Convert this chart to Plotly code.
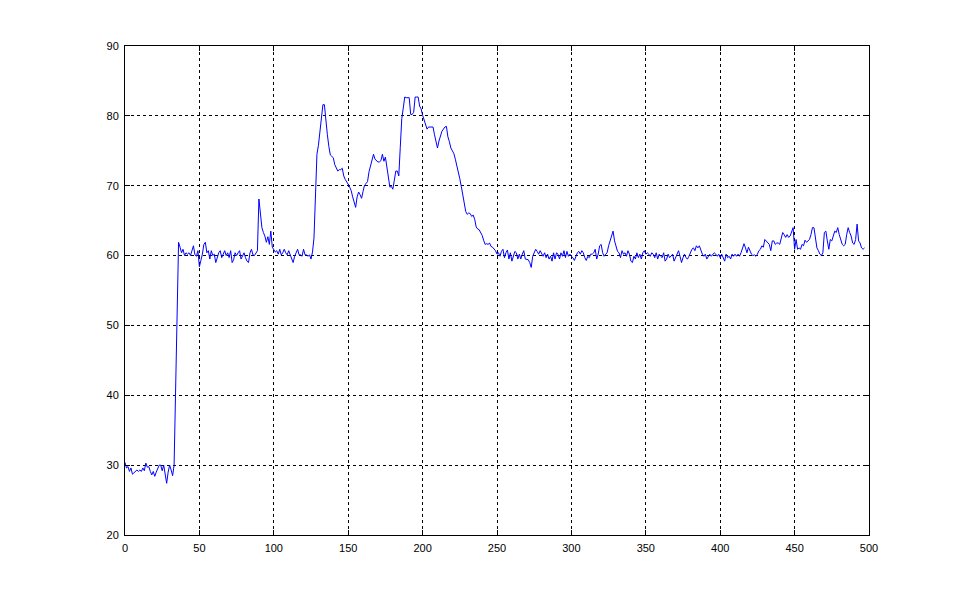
import plotly.graph_objects as go

x_values = list(range(498))

y_values = [
    # 0-9
    30.4, 29.6, 29.8, 29.1, 29.6, 28.7, 28.9, 29.1, 29.3, 29.1,
    # 10-19
    29.3, 29.1, 29.6, 29.2, 30.3, 29.7, 29.8, 29.1, 28.6, 29.1,
    # 20-29
    28.4, 29.0, 29.5, 30.0, 30.0, 29.2, 30.0, 28.6, 27.4, 29.0,
    # 30-39
    30.0, 29.3, 28.5, 30.0, 40.0, 52.0, 61.9, 61.2, 60.4, 60.9,
    # 40-49
    60.0, 60.4, 60.2, 60.4, 60.0, 60.7, 61.4, 60.1, 59.9, 60.7,
    # 50-59
    58.4, 59.3, 60.2, 61.6, 61.9, 60.4, 60.7, 59.5, 60.7, 60.0,
    # 60-69
    60.2, 59.0, 59.9, 60.4, 60.7, 59.7, 60.2, 60.7, 60.0, 60.4,
    # 70-79
    59.7, 60.7, 59.0, 59.4, 60.4, 60.0, 60.4, 60.7, 59.5, 60.0,
    # 80-89
    60.4, 59.7, 59.2, 59.0, 60.4, 60.9, 60.1, 60.0, 60.4, 60.7,
    # 90-99
    68.1, 66.4, 64.0, 63.3, 62.8, 61.9, 62.7, 61.6, 63.5, 61.2,
    # 100-109
    60.8, 60.5, 60.7, 60.2, 60.9, 60.1, 60.4, 60.9, 60.4, 60.1,
    # 110-119
    60.7, 60.1, 59.7, 59.0, 59.9, 60.4, 60.9, 60.1, 60.1, 59.9,
    # 120-129
    60.9, 60.1, 60.1, 59.9, 60.1, 59.5, 60.5, 62.5, 68.0, 74.5,
    # 130-139
    75.8, 77.5, 80.0, 81.6, 81.6, 79.0, 77.3, 75.6, 74.4, 74.2,
    # 140-149
    74.0, 73.0, 72.4, 72.1, 72.3, 72.3, 72.5, 71.4, 70.9, 70.6,
    # 150-159
    70.2, 69.8, 69.3, 68.4, 67.5, 66.9, 68.4, 69.1, 68.7, 68.2,
    # 160-169
    69.2, 70.1, 70.3, 70.6, 72.0, 73.0, 74.0, 74.5, 73.8, 73.6,
    # 170-179
    73.4, 73.4, 73.6, 74.5, 73.5, 74.1, 72.6, 70.9, 69.8, 69.9,
    # 180-189
    69.5, 70.8, 72.1, 72.1, 71.4, 75.5, 79.6, 81.1, 82.7, 82.6,
    # 190-199
    82.6, 82.6, 80.2, 80.2, 80.5, 82.7, 82.7, 82.7, 81.4, 81.0,
    # 200-209
    80.1, 79.4, 78.5, 78.1, 78.4, 78.4, 78.4, 78.4, 77.3, 76.1,
    # 210-219
    75.4, 76.4, 77.3, 77.8, 78.1, 78.4, 78.5, 77.0, 76.3, 75.4,
    # 220-229
    75.0, 74.6, 73.8, 73.0, 72.0, 71.0, 69.9, 68.8, 67.6, 66.3,
    # 230-239
    65.9, 66.1, 66.0, 65.6, 65.8, 65.2, 64.1, 63.8, 63.7, 63.3,
    # 240-249
    62.9, 62.2, 61.6, 61.7, 61.6, 61.8, 61.3, 61.2, 60.9, 60.7,
    # 250-259
    60.2, 60.4, 59.9, 60.6, 60.9, 59.7, 60.4, 60.8, 59.5, 60.4,
    # 260-269
    59.2, 59.9, 60.6, 60.4, 59.5, 60.2, 59.5, 60.2, 60.7, 59.5,
    # 270-279
    59.5, 59.4, 59.0, 58.3, 59.9, 60.4, 60.9, 60.6, 60.2, 60.7,
    # 280-289
    60.2, 59.9, 60.4, 59.7, 60.2, 59.5, 59.9, 59.2, 60.4, 59.5,
    # 290-299
    60.4, 60.2, 59.5, 60.4, 59.9, 60.7, 59.7, 60.6, 59.9, 60.2,
    # 300-309
    59.9, 59.7, 59.3, 59.9, 60.4, 60.6, 60.2, 60.7, 60.4, 59.7,
    # 310-319
    59.3, 59.9, 59.7, 60.2, 60.2, 60.4, 60.9, 59.5, 60.2, 61.4,
    # 320-329
    61.6, 60.4, 59.9, 60.2, 60.4, 61.4, 62.1, 62.7, 63.5, 62.1,
    # 330-339
    61.4, 60.6, 60.4, 59.7, 60.7, 60.2, 60.4, 59.9, 60.7, 60.2,
    # 340-349
    59.2, 59.0, 59.9, 59.5, 60.4, 59.7, 60.2, 59.5, 60.4, 60.7,
    # 350-359
    60.2, 60.4, 60.2, 59.9, 60.4, 60.2, 59.7, 60.4, 59.5, 60.2,
    # 360-369
    59.9, 59.7, 60.4, 59.2, 59.5, 60.2, 59.7, 59.9, 60.2, 59.2,
    # 370-379
    59.7, 60.2, 60.7, 59.9, 59.0, 59.7, 60.2, 59.7, 59.5, 59.9,
    # 380-389
    60.4, 60.9, 61.1, 60.7, 61.4, 61.1, 61.4, 60.7, 60.2, 59.9,
    # 390-399
    60.2, 59.5, 59.9, 60.2, 59.9, 60.2, 60.4, 60.2, 59.9, 60.2,
    # 400-409
    59.7, 60.2, 59.7, 59.2, 60.2, 59.7, 59.9, 59.5, 60.2, 59.9,
    # 410-419
    60.2, 59.9, 60.2, 59.9, 60.4, 61.0, 61.7, 61.1, 60.4, 61.2,
    # 420-429
    60.7, 60.2, 60.0, 60.1, 59.9, 60.2, 60.7, 60.9, 61.4, 61.2,
    # 430-439
    62.3, 62.1, 61.8, 61.6, 60.7, 62.1, 62.1, 61.6, 61.8, 61.8,
    # 440-449
    61.6, 62.6, 63.3, 63.0, 62.6, 63.0, 62.6, 62.8, 63.3, 64.0,
    # 450-459
    60.9, 62.3, 60.9, 61.1, 60.9, 61.6, 61.4, 62.2, 61.9, 62.1,
    # 460-469
    62.3, 63.0, 64.0, 64.0, 62.8, 61.1, 60.7, 60.2, 60.0, 60.4,
    # 470-479
    63.3, 63.5, 62.1, 60.9, 62.3, 62.1, 62.8, 63.5, 63.3, 64.0,
    # 480-489
    63.0, 62.3, 61.6, 61.4, 61.6, 63.0, 64.0, 63.3, 62.8, 61.8,
    # 490-497
    61.6, 62.3, 64.5, 62.1, 61.8, 61.1, 60.9, 61.1,
]

x_ticks = [0, 50, 100, 150, 200, 250, 300, 350, 400, 450, 500]
y_ticks = [20, 30, 40, 50, 60, 70, 80, 90]

fig = go.Figure()
fig.add_trace(go.Scatter(
    x=x_values, y=y_values, mode="lines",
    line=dict(color="#0000ff", width=1),
    showlegend=False, hoverinfo="skip",
))

axis_common = dict(
    showline=True, linecolor="black", linewidth=1, mirror="ticks",
    ticks="inside", ticklen=5, tickcolor="black", tickwidth=1,
    showgrid=True, gridcolor="black", gridwidth=1, griddash="3px,3px",
    zeroline=False,
    tickfont=dict(family="Liberation Sans, Arial, sans-serif", size=11, color="black"),
)

fig.update_xaxes(range=[0, 500], tickvals=x_ticks, ticktext=[str(v) for v in x_ticks],
                 ticklabelstandoff=3, **axis_common)
fig.update_yaxes(range=[20, 90], tickvals=y_ticks, ticktext=[str(v) for v in y_ticks],
                 ticklabelstandoff=3, **axis_common)

fig.update_layout(
    width=960, height=600,
    margin=dict(l=117, r=99, t=38, b=73),
    paper_bgcolor="white", plot_bgcolor="white",
)

fig.write_html("out.html")
